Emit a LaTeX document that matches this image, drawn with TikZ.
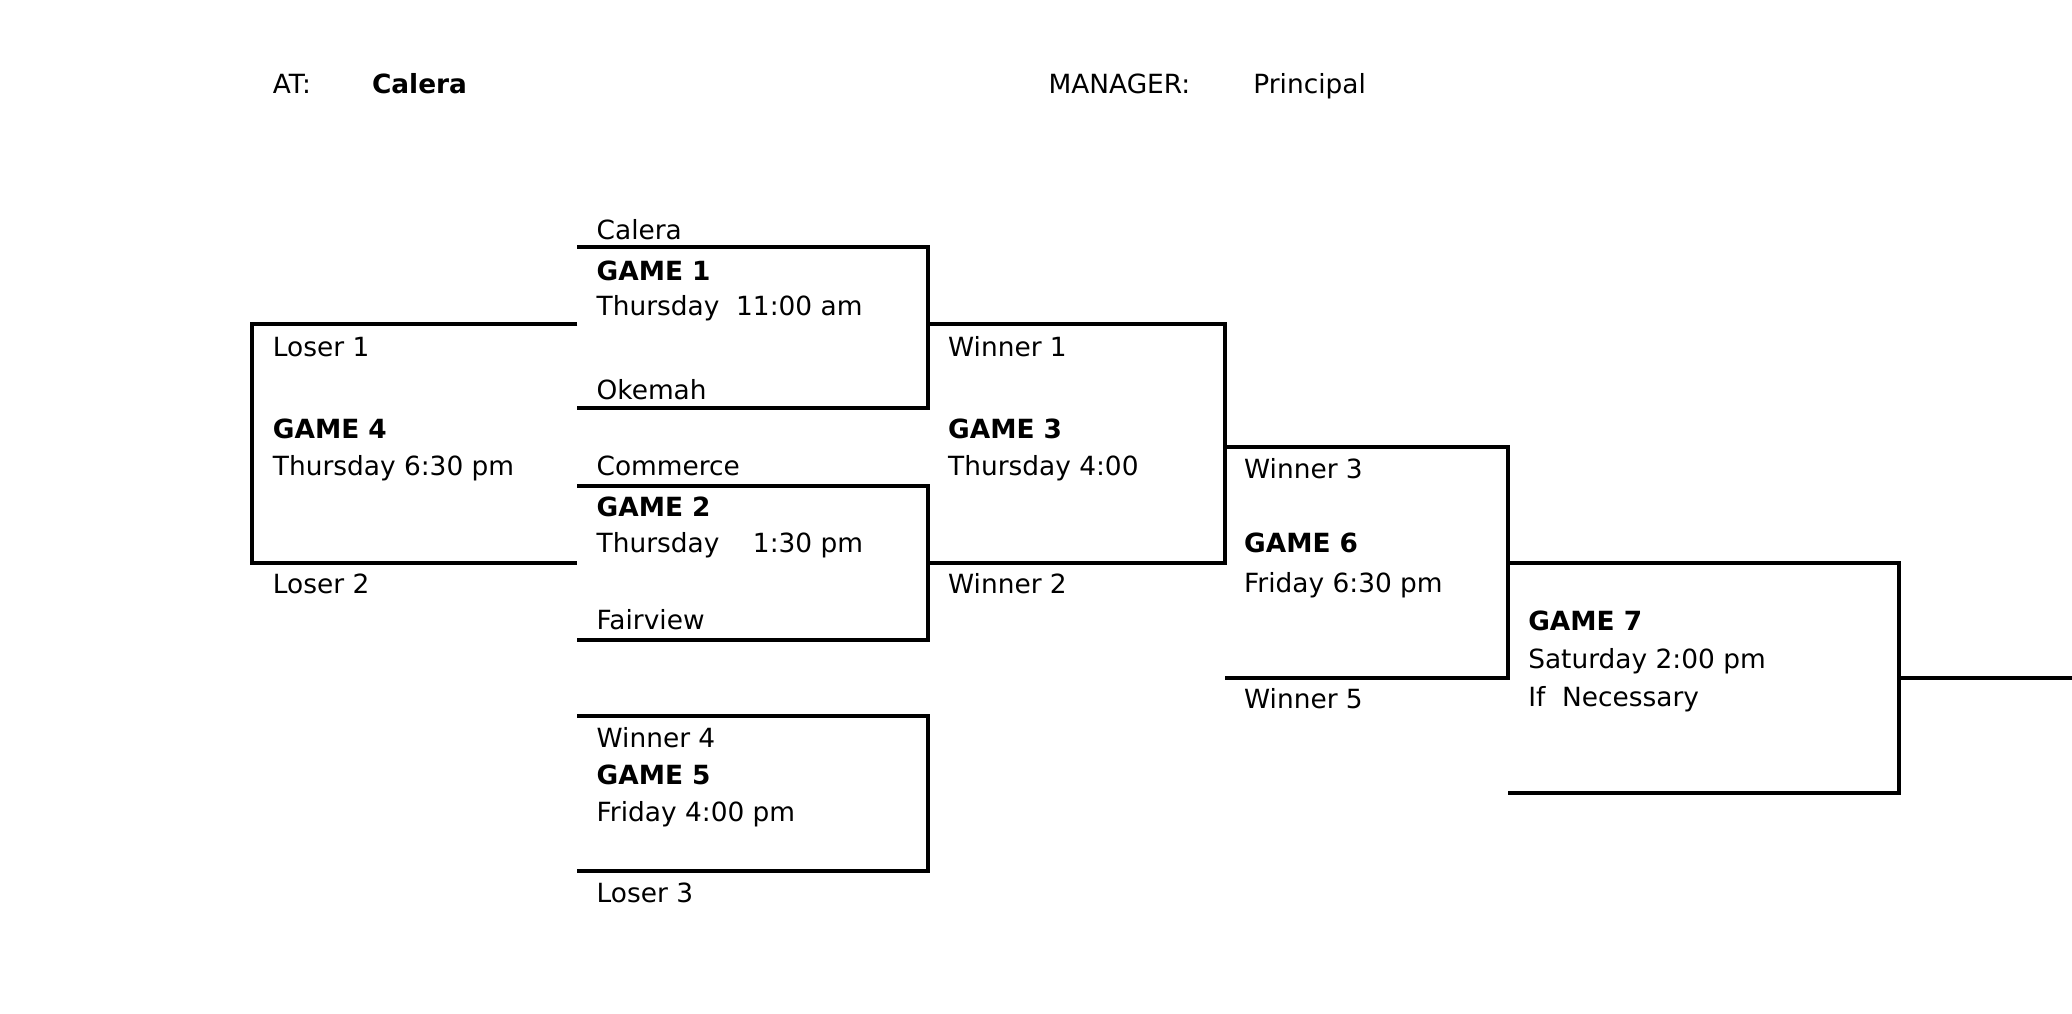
\documentclass[tikz,border=0pt]{standalone}
\usepackage{fontspec}
\setmainfont{DejaVu Sans}
\begin{document}
\begin{tikzpicture}[x=0.6607pt,y=-0.6607pt,
  line width=2pt, line join=miter,
  txt/.style={anchor=base west, inner sep=0pt, font=\fontsize{13.2}{15}\selectfont},
  btxt/.style={anchor=base west, inner sep=0pt, font=\fontsize{13.2}{15}\selectfont\bfseries}]
\useasboundingbox (0,0) rectangle (1568,767);
% header
\node[txt]  (at)   at (205,71) {AT:};
\node[btxt] (atv)  at (280,71) {Calera};
\node[txt]  (mgr)  at (792,71) {MANAGER:};
\node[txt]  (mgrv) at (947,71) {Principal};
% bracket corners
\coordinate (g1tl) at (437,187); \coordinate (g1tr) at (702,187);
\coordinate (g1br) at (702,309); \coordinate (g1bl) at (437,309);
\coordinate (g4tr) at (437,245); \coordinate (g4tl) at (191,245);
\coordinate (g4bl) at (191,426); \coordinate (g4br) at (437,426);
\coordinate (g2tl) at (437,368); \coordinate (g2tr) at (702,368);
\coordinate (g2br) at (702,484); \coordinate (g2bl) at (437,484);
\coordinate (g3tl) at (702,245); \coordinate (g3tr) at (927,245);
\coordinate (g3br) at (927,426); \coordinate (g3bl) at (702,426);
\coordinate (g5tl) at (437,542); \coordinate (g5tr) at (702,542);
\coordinate (g5br) at (702,659); \coordinate (g5bl) at (437,659);
\coordinate (g6tl) at (927,338); \coordinate (g6tr) at (1141,338);
\coordinate (g6br) at (1141,513); \coordinate (g6bl) at (927,513);
\coordinate (g7tl) at (1141,426); \coordinate (g7tr) at (1437,426);
\coordinate (g7br) at (1437,600); \coordinate (g7bl) at (1141,600);
\coordinate (g7out) at (1437,513); \coordinate (fin) at (1568,513);
\draw (g1tl) -- (g1tr) -- (g1br) -- (g1bl);
\draw (g4tr) -- (g4tl) -- (g4bl) -- (g4br);
\draw (g2tl) -- (g2tr) -- (g2br) -- (g2bl);
\draw (g3tl) -- (g3tr) -- (g3br) -- (g3bl);
\draw (g5tl) -- (g5tr) -- (g5br) -- (g5bl);
\draw (g6tl) -- (g6tr) -- (g6br) -- (g6bl);
\draw (g7tl) -- (g7tr) -- (g7br) -- (g7bl);
\draw (g7out) -- (fin);
% game 1
\node[txt]  (t1a) at (450,181) {Calera};
\node[btxt] (t1b) at (450,212) {GAME 1};
\node[txt]  (t1c) at (450,239) {Thursday\ \ 11:00 am};
\node[txt]  (t1d) at (450,302) {Okemah};
% game 4
\node[txt]  (t4a) at (205,270) {Loser 1};
\node[btxt] (t4b) at (205,332) {GAME 4};
\node[txt]  (t4c) at (205,360) {Thursday 6:30 pm};
\node[txt]  (t4d) at (205,449) {Loser 2};
% game 2
\node[txt]  (t2a) at (450,360) {Commerce};
\node[btxt] (t2b) at (450,391) {GAME 2};
\node[txt]  (t2c) at (450,418) {Thursday\ \ \ \ 1:30 pm};
\node[txt]  (t2d) at (450,476) {Fairview};
% game 3
\node[txt]  (t3a) at (716,270) {Winner 1};
\node[btxt] (t3b) at (716,332) {GAME 3};
\node[txt]  (t3c) at (716,360) {Thursday 4:00};
\node[txt]  (t3d) at (716,449) {Winner 2};
% game 6
\node[txt]  (t6a) at (940,362) {Winner 3};
\node[btxt] (t6b) at (940,418) {GAME 6};
\node[txt]  (t6c) at (940,448) {Friday 6:30 pm};
\node[txt]  (t6d) at (940,536) {Winner 5};
% game 7
\node[btxt] (t7a) at (1155,477) {GAME 7};
\node[txt]  (t7b) at (1155,506) {Saturday 2:00 pm};
\node[txt]  (t7c) at (1155,535) {If\ \ Necessary};
% game 5
\node[txt]  (t5a) at (450,566) {Winner 4};
\node[btxt] (t5b) at (450,594) {GAME 5};
\node[txt]  (t5c) at (450,622) {Friday 4:00 pm};
\node[txt]  (t5d) at (450,683) {Loser 3};
\end{tikzpicture}
\end{document}
